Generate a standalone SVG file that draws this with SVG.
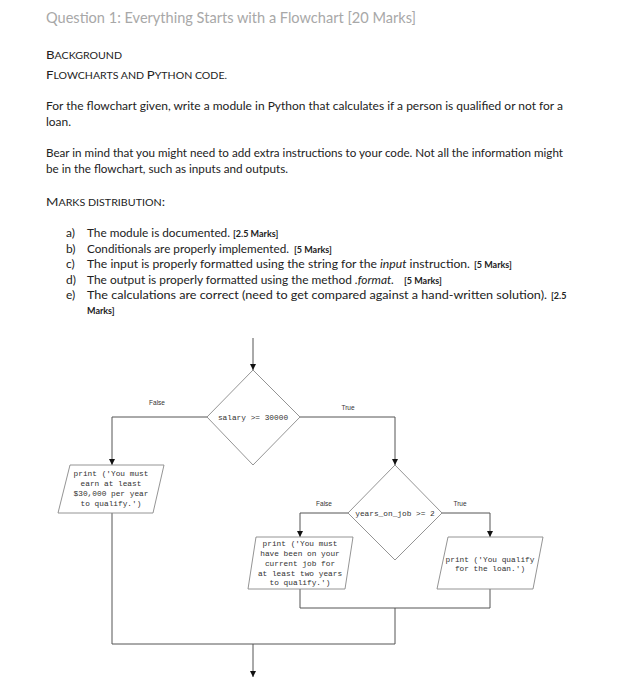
<svg xmlns="http://www.w3.org/2000/svg" width="641" height="700" viewBox="0 0 641 700">
<defs>
<marker id="arr" viewBox="0 0 10 10" refX="10" refY="5" markerWidth="6" markerHeight="9" markerUnits="userSpaceOnUse" orient="auto">
<path d="M0,0 L10,5 L0,10 Z" fill="#111"/>
</marker>
<style>
.t{font-family:Lato,"Open Sans","Liberation Sans",sans-serif;font-size:12px;fill:#222}
.ti{font-family:Lato,"Open Sans","Liberation Sans",sans-serif;font-size:15px;fill:#a8a8a8}
.sm{font-family:Lato,"Open Sans","Liberation Sans",sans-serif;font-size:9px;font-weight:bold;fill:#222}
.m{font-family:"Liberation Mono","DejaVu Sans Mono",monospace;font-size:7.8px;fill:#333;text-anchor:middle}
.lb{font-family:"Liberation Sans",Arial,sans-serif;font-size:6.5px;fill:#333;text-anchor:middle}
.c{fill:none;stroke:#555;stroke-width:1}
.ca{fill:none;stroke:#555;stroke-width:1;marker-end:url(#arr)}
.sh{fill:#fff;stroke:#888;stroke-width:0.9}
</style>
</defs>
<rect width="641" height="700" fill="#fff"/>
<g id="header">
<text class="ti" x="46" y="23" textLength="370" lengthAdjust="spacingAndGlyphs">Question 1: Everything Starts with a Flowchart [20 Marks]</text>
<text class="t" x="46" y="59" textLength="76" lengthAdjust="spacingAndGlyphs">B<tspan font-size="9.6">ACKGROUND</tspan></text>
<text class="t" x="46" y="79" textLength="181" lengthAdjust="spacingAndGlyphs">F<tspan font-size="9.6">LOWCHARTS AND </tspan>P<tspan font-size="9.6">YTHON CODE.</tspan></text>
<text class="t" x="46" y="110" textLength="517" lengthAdjust="spacingAndGlyphs">For the flowchart given, write a module in Python that calculates if a person is qualified or not for a</text>
<text class="t" x="46" y="126" textLength="25" lengthAdjust="spacingAndGlyphs">loan.</text>
<text class="t" x="46" y="157" textLength="517" lengthAdjust="spacingAndGlyphs">Bear in mind that you might need to add extra instructions to your code. Not all the information might</text>
<text class="t" x="46" y="173" textLength="242" lengthAdjust="spacingAndGlyphs">be in the flowchart, such as inputs and outputs.</text>
<text class="t" x="46" y="206" textLength="119" lengthAdjust="spacingAndGlyphs">M<tspan font-size="9.6">ARKS DISTRIBUTION</tspan>:</text>
</g>
<g id="marks">
<text class="t" x="66" y="237">a)</text>
<text class="t" x="87" y="237" textLength="143" lengthAdjust="spacingAndGlyphs">The module is documented.</text>
<text class="sm" x="233" y="237">[2.5 Marks]</text>
<text class="t" x="66" y="252.5">b)</text>
<text class="t" x="87" y="252.5" textLength="202" lengthAdjust="spacingAndGlyphs">Conditionals are properly implemented.</text>
<text class="sm" x="294" y="252.5">[5 Marks]</text>
<text class="t" x="66" y="268">c)</text>
<text class="t" x="87" y="268" textLength="383" lengthAdjust="spacingAndGlyphs">The input is properly formatted using the string for the <tspan font-style="italic">input</tspan> instruction.</text>
<text class="sm" x="474" y="268">[5 Marks]</text>
<text class="t" x="66" y="283.5">d)</text>
<text class="t" x="87" y="283.5" textLength="307" lengthAdjust="spacingAndGlyphs">The output is properly formatted using the method <tspan font-style="italic">.format.</tspan></text>
<text class="sm" x="404" y="283.5">[5 Marks]</text>
<text class="t" x="66" y="299">e)</text>
<text class="t" x="87" y="299" textLength="460" lengthAdjust="spacingAndGlyphs">The calculations are correct (need to get compared against a hand-written solution).</text>
<text class="sm" x="551" y="299">[2.5</text>
<text class="sm" x="87" y="314">Marks]</text>
</g>
<g id="connectors">
<line class="ca" x1="253" y1="338" x2="253" y2="370"/>
<polyline class="ca" points="207,417 112,417 112,465"/>
<polyline class="ca" points="300,417 395,417 395,465"/>
<polyline class="ca" points="348,513 300,513 300,537"/>
<polyline class="ca" points="442,513 490,513 490,537"/>
<polyline class="c" points="112,513 112,644 395,644 395,608"/>
<polyline class="c" points="300,589 300,608 490,608 490,589"/>
<line class="ca" x1="253" y1="644" x2="253" y2="677"/>
<text class="lb" x="157" y="405">False</text>
<text class="lb" x="348" y="410">True</text>
<text class="lb" x="324" y="506">False</text>
<text class="lb" x="460" y="506">True</text>
</g>
<g id="decision-salary">
<polygon class="sh" points="253,370 300,417 253,465 207,417"/>
<text class="m" x="253" y="420">salary &gt;= 30000</text>
</g>
<g id="decision-years">
<polygon class="sh" points="395,465 442,513 395,560 348,513"/>
<text class="m" x="395" y="516">years_on_job &gt;= 2</text>
</g>
<g id="output-salary">
<polygon class="sh" points="70,465 164,465 153,513 58,513"/>
<text class="m" x="111" y="476">print ('You must</text>
<text class="m" x="111" y="486">earn at least</text>
<text class="m" x="111" y="496">$30,000 per year</text>
<text class="m" x="111" y="506">to qualify.')</text>
</g>
<g id="output-years">
<polygon class="sh" points="256,537 353,537 345,589 248,589"/>
<text class="m" x="300" y="546">print ('You must</text>
<text class="m" x="300" y="556">have been on your</text>
<text class="m" x="300" y="566">current job for</text>
<text class="m" x="300" y="576">at least two years</text>
<text class="m" x="300" y="585">to qualify.')</text>
</g>
<g id="output-qualify">
<polygon class="sh" points="448,537 543,537 533,589 437,589"/>
<text class="m" x="490" y="562">print ('You qualify</text>
<text class="m" x="490" y="571">for the loan.')</text>
</g>
</svg>
